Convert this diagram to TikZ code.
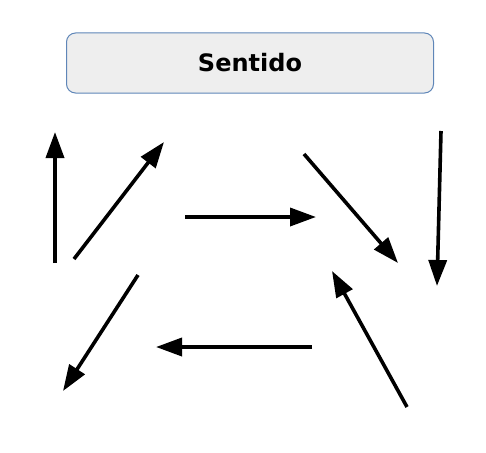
\documentclass[tikz,border=0pt]{standalone}
\usepackage{fontspec}
\setmainfont{DejaVu Sans}
\usetikzlibrary{arrows.meta}
\definecolor{boxfill}{HTML}{EEEEEE}
\definecolor{boxline}{HTML}{5F86B8}
\begin{document}
\begin{tikzpicture}[x=1pt,y=-1pt]

        \useasboundingbox (0,0) rectangle (486,452);

        \node[draw=boxline,line width=1pt,fill=boxfill,rounded corners=9pt,minimum width=367pt,minimum height=60pt,
              font=\fontsize{24}{28}\selectfont\bfseries] (sentido) at (250,63) {Sentido};

        \begin{scope}
          \coordinate (1a) at (55,263);
          \coordinate (1b) at (55,132);
          \coordinate (2a) at (74,259);
          \coordinate (2b) at (164,142);
          \coordinate (3a) at (185,217);
          \coordinate (3b) at (316,217);
          \coordinate (4a) at (304,154);
          \coordinate (4b) at (398,263);
          \coordinate (5a) at (441,131);
          \coordinate (5b) at (437,286);
          \coordinate (6a) at (138,275);
          \coordinate (6b) at (63,391);
          \coordinate (7a) at (312,347);
          \coordinate (7b) at (156,347);
          \coordinate (8a) at (407,407);
          \coordinate (8b) at (332,271);
        \end{scope}

        \begin{scope}[every edge/.style={draw,line width=3.6pt,-{Triangle[length=26pt,width=18pt]}}]
          \path (1a) edge (1b);
          \path (2a) edge (2b);
          \path (3a) edge (3b);
          \path (4a) edge (4b);
          \path (5a) edge (5b);
          \path (6a) edge (6b);
          \path (7a) edge (7b);
          \path (8a) edge (8b);
        \end{scope}

      \end{tikzpicture}
\end{document}
